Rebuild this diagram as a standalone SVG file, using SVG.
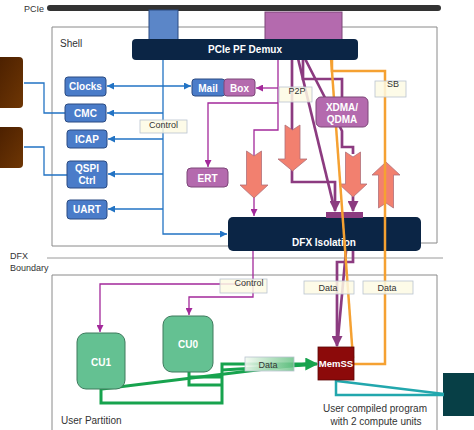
<svg xmlns="http://www.w3.org/2000/svg" width="474" height="430" viewBox="0 0 474 430">
<defs>
<style>
text{font-family:"Liberation Sans",Arial,sans-serif}
.lbl{font-size:9px;fill:#333}
.nt{font-size:10px;font-weight:bold;fill:#fff;text-anchor:middle}
.frame{fill:none;stroke:#8a8a8a;stroke-width:1}
.blue{fill:#4a7cc9;stroke:#2b4b82;stroke-width:1}
.purp{fill:#b46aae;stroke:#7d4678;stroke-width:1}
.navy{fill:#0b2545}
.cu{fill:#64c192;stroke:#3e7a5d;stroke-width:1}
.tag{fill:#fdfae4;fill-opacity:0.85;stroke:#b9c4cf;stroke-width:0.8}
.lb{fill:none;stroke:#2273c4;stroke-width:1.3}
.lm{fill:none;stroke:#a3299a;stroke-width:1.3}
.lp{fill:none;stroke:#8c3b80;stroke-width:2.7}
.lo{fill:none;stroke:#f5a132;stroke-width:2.5}
.lg{fill:none;stroke:#17a34e;stroke-width:3}
.lt{fill:none;stroke:#22a7ad;stroke-width:2.5}
.sal{fill:#f2806f;stroke:#b0707a;stroke-width:0.8}
</style>
<linearGradient id="brown" x1="0" y1="0" x2="1" y2="1">
<stop offset="0" stop-color="#4a1f00"/><stop offset="1" stop-color="#6e3604"/>
</linearGradient>
<linearGradient id="gdata" x1="0" y1="0" x2="1" y2="0">
<stop offset="0" stop-color="#f4faf2" stop-opacity="0.9"/><stop offset="1" stop-color="#6cc488" stop-opacity="0.85"/>
</linearGradient>
<marker id="ab" viewBox="0 0 10 10" refX="10" refY="5" markerWidth="7" markerHeight="7" orient="auto-start-reverse" markerUnits="userSpaceOnUse"><path d="M0,0 L10,5 L0,10 z" fill="#2273c4"/></marker>
<marker id="am" viewBox="0 0 10 10" refX="10" refY="5" markerWidth="7" markerHeight="7" orient="auto" markerUnits="userSpaceOnUse"><path d="M0,0 L10,5 L0,10 z" fill="#a3299a"/></marker>
<marker id="ap" viewBox="0 0 10 10" refX="9" refY="5" markerWidth="11" markerHeight="11" orient="auto" markerUnits="userSpaceOnUse"><path d="M0,0 L10,5 L0,10 z" fill="#8c3b80"/></marker>
<marker id="ao" viewBox="0 0 10 10" refX="9" refY="5" markerWidth="13" markerHeight="12" orient="auto" markerUnits="userSpaceOnUse"><path d="M0,0 L10,5 L0,10 z" fill="#f5a132"/></marker>
<marker id="ag" viewBox="0 0 10 10" refX="9" refY="5" markerWidth="14" markerHeight="13" orient="auto" markerUnits="userSpaceOnUse"><path d="M0,0 L10,5 L0,10 z" fill="#17a34e"/></marker>
</defs>
<rect width="474" height="430" fill="#fff"/>

<g id="frames">
<line x1="50" y1="8" x2="438" y2="8" stroke="#333" stroke-width="6" stroke-linecap="round"/>
<text x="24" y="12" class="lbl">PCIe</text>
<path class="frame" d="M228 246 H52 V27 H437 V243 H421"/>
<text x="60" y="47" style="font-size:10px;fill:#333">Shell</text>
<line x1="47" y1="258" x2="443" y2="258" stroke="#9a9a9a" stroke-width="1"/>
<text x="10" y="259" class="lbl">DFX</text>
<text x="10" y="271" class="lbl">Boundary</text>
<path class="frame" d="M52 432 V275 H437 V432"/>
<text x="61" y="424" style="font-size:10px;fill:#333">User Partition</text>
<text x="375" y="412" style="font-size:10px;fill:#333;text-anchor:middle">User compiled program</text>
<text x="376" y="425" style="font-size:10px;fill:#333;text-anchor:middle">with 2 compute units</text>
</g>

<g id="brown1"><rect x="-4" y="57" width="27" height="51" rx="4" fill="url(#brown)"/></g>
<g id="brown2"><rect x="-4" y="127" width="27" height="41" rx="4" fill="url(#brown)"/></g>
<g id="dfx-isolation"><rect x="228" y="217" width="193" height="34" rx="5" class="navy"/><text x="324" y="246" class="nt">DFX Isolation</text>
<rect x="326" y="212" width="37" height="6" fill="#8c3b80"/></g>
<g id="tealbox"><rect x="443" y="373" width="35" height="43" fill="#073f46"/></g>

<g id="connectors">
<path class="lb" d="M24 83 H44 V113 H65"/>
<path class="lb" d="M24 147 H44 V175 H67"/>
<path class="lb" d="M163 44 V234 H227" marker-end="url(#ab)"/>
<path class="lb" d="M163 113 H107" marker-end="url(#ab)"/>
<path class="lb" d="M163 139 H108" marker-end="url(#ab)"/>
<path class="lb" d="M163 174 H108" marker-end="url(#ab)"/>
<path class="lb" d="M163 209 H108" marker-end="url(#ab)"/>
<path class="lb" d="M107 86 H191" marker-start="url(#ab)" marker-end="url(#ab)"/>

<path class="lm" d="M278 42 V130 H254 V216" marker-end="url(#am)"/>
<path class="lm" d="M278 103 H208 V167" marker-end="url(#am)"/>
<path class="lm" d="M278 88 H256" marker-end="url(#am)"/>
<path class="lm" d="M253 251 V297 H189 V315" marker-end="url(#am)"/>
<path class="lm" d="M253 284 H100 V332" marker-end="url(#am)"/>

<path class="lp" d="M292 42 V182 H335 V211" marker-end="url(#ap)"/>
<path class="lp" d="M294 42 L333 203"/>
<path class="lp" d="M342 97 V79 H303 V45" marker-end="url(#ap)"/>
<path class="lp" d="M298 45 L342 131 V147 H353 V154"/>
<path class="lp" d="M353 196 V211" marker-end="url(#ap)"/>
<path class="lp" d="M353 251 V262 H337 V346" marker-end="url(#ap)"/>
<path class="lp" d="M346 251 L338 338"/>

<path class="sal" d="M246.5 151 L254 156 L261.5 151 V185 H268 L254 198 L240 185 H246.5 Z"/>
<path class="sal" d="M285 125 L292.5 130 L300 125 V159 H307 L292.5 171 L278 159 H285 Z"/>
<path class="sal" d="M345.5 152 L353 157 L360.5 152 V184 H367 L353 197 L339 184 H345.5 Z"/>
<path class="sal" d="M378.5 208 L386 203 L393.5 208 V175 H400 L386 162 L372 175 H378.5 Z"/>

<path class="lo" d="M354 364 H385 V71 H332 V44" marker-end="url(#ao)"/>
<path class="lo" d="M353 358 L331 58"/>

<path class="lg" d="M102 389 L306 364"/>
<path class="lg" d="M189 372 V385 H222"/>
<path class="lg" d="M189 377 H222"/>
<path class="lg" d="M222 370 L306 365"/>
<path class="lg" d="M101 389 V403 H222 V364 H317" marker-end="url(#ag)"/>

<path class="lt" d="M336 380 V395 H444"/>
<path class="lt" d="M337 381 L444 394"/>
</g>

<g id="pcie-blue"><rect x="149" y="10" width="29" height="34" class="blue" style="fill:#5b86c8"/></g>
<g id="pcie-purple"><rect x="265" y="12" width="77" height="30" class="purp"/></g>
<g id="pf-demux"><rect x="132" y="39" width="226" height="21" rx="4" class="navy"/><text x="245" y="53" class="nt">PCIe PF Demux</text></g>
<g id="clocks"><rect x="65" y="77" width="41" height="19" rx="3" class="blue"/><text x="85.5" y="90" class="nt">Clocks</text></g>
<g id="cmc"><rect x="65" y="104" width="41" height="18" rx="3" class="blue"/><text x="85.5" y="117" class="nt">CMC</text></g>
<g id="icap"><rect x="67" y="130" width="40" height="18" rx="3" class="blue"/><text x="87" y="143" class="nt">ICAP</text></g>
<g id="qspi"><rect x="67" y="161" width="40" height="27" rx="3" class="blue"/><text x="87" y="172" class="nt">QSPI</text><text x="87" y="184" class="nt">Ctrl</text></g>
<g id="uart"><rect x="67" y="200" width="40" height="19" rx="3" class="blue"/><text x="87" y="213" class="nt">UART</text></g>
<g id="mailbox"><rect x="192" y="79" width="33" height="17" rx="3" class="blue"/><rect x="224" y="79" width="31" height="17" rx="3" class="purp"/><text x="208" y="91.5" class="nt">Mail</text><text x="239.5" y="91.5" class="nt">Box</text></g>
<g id="xdma"><rect x="316" y="97" width="52" height="30" rx="5" class="purp"/><text x="342" y="111" class="nt">XDMA/</text><text x="342" y="123" class="nt">QDMA</text></g>
<g id="ert"><rect x="187" y="168" width="41" height="19" rx="4" class="purp"/><text x="207.5" y="181.5" class="nt">ERT</text></g>
<g id="cu1"><rect x="77" y="333" width="48" height="56" rx="9" class="cu"/><text x="101" y="366" class="nt">CU1</text></g>
<g id="cu0"><rect x="163" y="316" width="50" height="56" rx="9" class="cu"/><text x="188" y="348" class="nt">CU0</text></g>
<g id="memss"><rect x="318" y="347" width="36" height="33" fill="#8c0a0a" stroke="#5a0505" stroke-width="0.8"/><text x="336" y="367" class="nt" style="font-size:9.5px">MemSS</text></g>

<g id="labels">
<rect x="140" y="120" width="47" height="13" class="tag"/><text x="163.5" y="127.5" class="lbl" text-anchor="middle">Control</text>
<rect x="279" y="87" width="33" height="15" class="tag"/><text x="297" y="94" class="lbl" text-anchor="middle">P2P</text>
<rect x="375" y="81" width="31" height="16" class="tag"/><text x="393" y="87" class="lbl" text-anchor="middle">SB</text>
<rect x="220" y="279" width="47" height="14" class="tag"/><text x="249" y="286" class="lbl" text-anchor="middle">Control</text>
<rect x="304" y="281" width="50" height="13" class="tag"/><text x="328" y="291" class="lbl" text-anchor="middle">Data</text>
<rect x="363" y="281" width="50" height="13" class="tag"/><text x="387" y="291" class="lbl" text-anchor="middle">Data</text>
<rect x="245" y="357" width="49" height="14" fill="url(#gdata)" stroke="#b9c4cf" stroke-width="0.8"/><text x="268" y="368" class="lbl" text-anchor="middle">Data</text>
</g>
</svg>
